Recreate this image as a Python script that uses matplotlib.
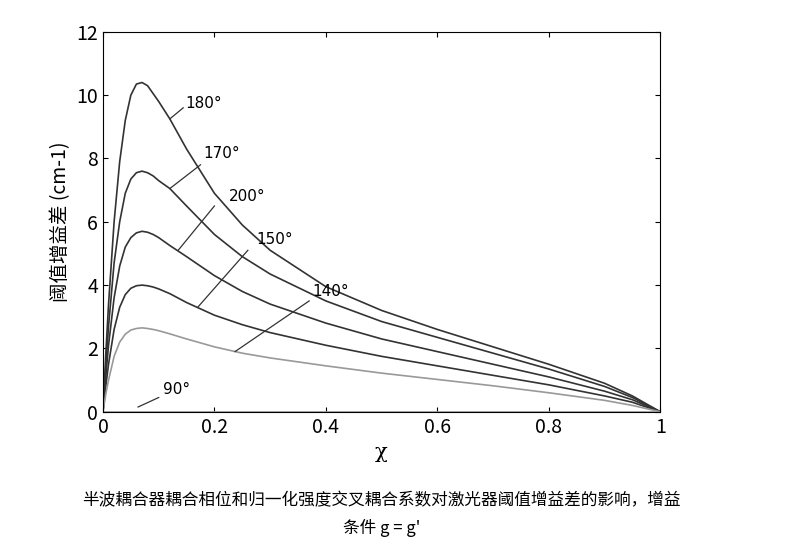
import matplotlib.pyplot as plt

plt.rcParams['font.family'] = ['Noto Sans CJK SC', 'DejaVu Sans']

x = [0, 0.005, 0.01, 0.02, 0.03, 0.04, 0.05, 0.06, 0.07, 0.08, 0.09, 0.1, 0.12, 0.15, 0.2,
     0.25, 0.3, 0.4, 0.5, 0.6, 0.7, 0.8, 0.9, 0.95, 1.0]
y180 = [0, 1.8, 3.4, 6.0, 7.9, 9.2, 10.0, 10.35, 10.4, 10.3, 10.05, 9.8, 9.25, 8.3, 6.9,
        5.9, 5.1, 3.95, 3.2, 2.6, 2.05, 1.5, 0.9, 0.5, 0]
y170 = [0, 1.4, 2.7, 4.7, 6.0, 6.9, 7.35, 7.55, 7.6, 7.55, 7.45, 7.3, 7.05, 6.5, 5.6,
        4.9, 4.35, 3.5, 2.85, 2.35, 1.85, 1.35, 0.8, 0.45, 0]
y200 = [0, 1.1, 2.1, 3.6, 4.6, 5.2, 5.5, 5.65, 5.7, 5.67, 5.6, 5.5, 5.25, 4.9, 4.3,
        3.8, 3.4, 2.8, 2.3, 1.9, 1.5, 1.1, 0.65, 0.38, 0]
y150 = [0, 0.8, 1.5, 2.6, 3.3, 3.7, 3.9, 3.98, 4.0, 3.98, 3.94, 3.88, 3.73, 3.45, 3.05,
        2.75, 2.5, 2.1, 1.75, 1.45, 1.15, 0.85, 0.5, 0.3, 0]
y140 = [0, 0.55, 1.0, 1.75, 2.2, 2.45, 2.58, 2.63, 2.65, 2.63, 2.6, 2.56, 2.46, 2.3, 2.05,
        1.85, 1.7, 1.45, 1.22, 1.02, 0.82, 0.6, 0.36, 0.2, 0]
y90 = [0] * len(x)

# label text, curve point, leader end, text position
labels = [
    ('180°', (0.12, 9.25), (0.144, 9.6), (0.148, 9.75)),
    ('170°', (0.12, 7.05), (0.175, 7.8), (0.18, 8.15)),
    ('200°', (0.135, 5.1), (0.2, 6.5), (0.226, 6.8)),
    ('150°', (0.17, 3.3), (0.26, 5.1), (0.275, 5.45)),
    ('140°', (0.237, 1.9), (0.37, 3.5), (0.375, 3.8)),
    ('90°', (0.063, 0.15), (0.1, 0.45), (0.108, 0.7)),
]

fig = plt.figure(figsize=(7.86, 5.49), dpi=100)
ax = fig.add_axes([0.131, 0.25, 0.709, 0.692])
for ys, c in [(y180, '#333333'), (y170, '#333333'), (y200, '#333333'),
              (y150, '#333333'), (y140, '#999999'), (y90, '#999999')]:
    ax.plot(x, ys, color=c, lw=1.2)

for txt, p0, p1, pt in labels:
    ax.plot([p0[0], p1[0]], [p0[1], p1[1]], color='#333333', lw=0.9)
    ax.text(pt[0], pt[1], txt, fontsize=11, va='center', ha='left', family='DejaVu Sans')

ax.set_xlim(0, 1)
ax.set_ylim(0, 12)
ax.set_xticks([0, 0.2, 0.4, 0.6, 0.8, 1])
ax.set_xticklabels(['0', '0.2', '0.4', '0.6', '0.8', '1'])
ax.tick_params(direction='in', labelsize=14, top=True, right=True)
ax.set_xlabel('χ', fontsize=15, family='DejaVu Serif')
ax.set_ylabel('阈值增益差 (cm-1)', fontsize=14)

fig.text(0.485, 0.08, '半波耦合器耦合相位和归一化强度交叉耦合系数对激光器阈值增益差的影响，增益',
         ha='center', fontsize=12)
fig.text(0.485, 0.03, '条件 g = g\'', ha='center', fontsize=12)

fig.savefig('out.png', dpi=100)
